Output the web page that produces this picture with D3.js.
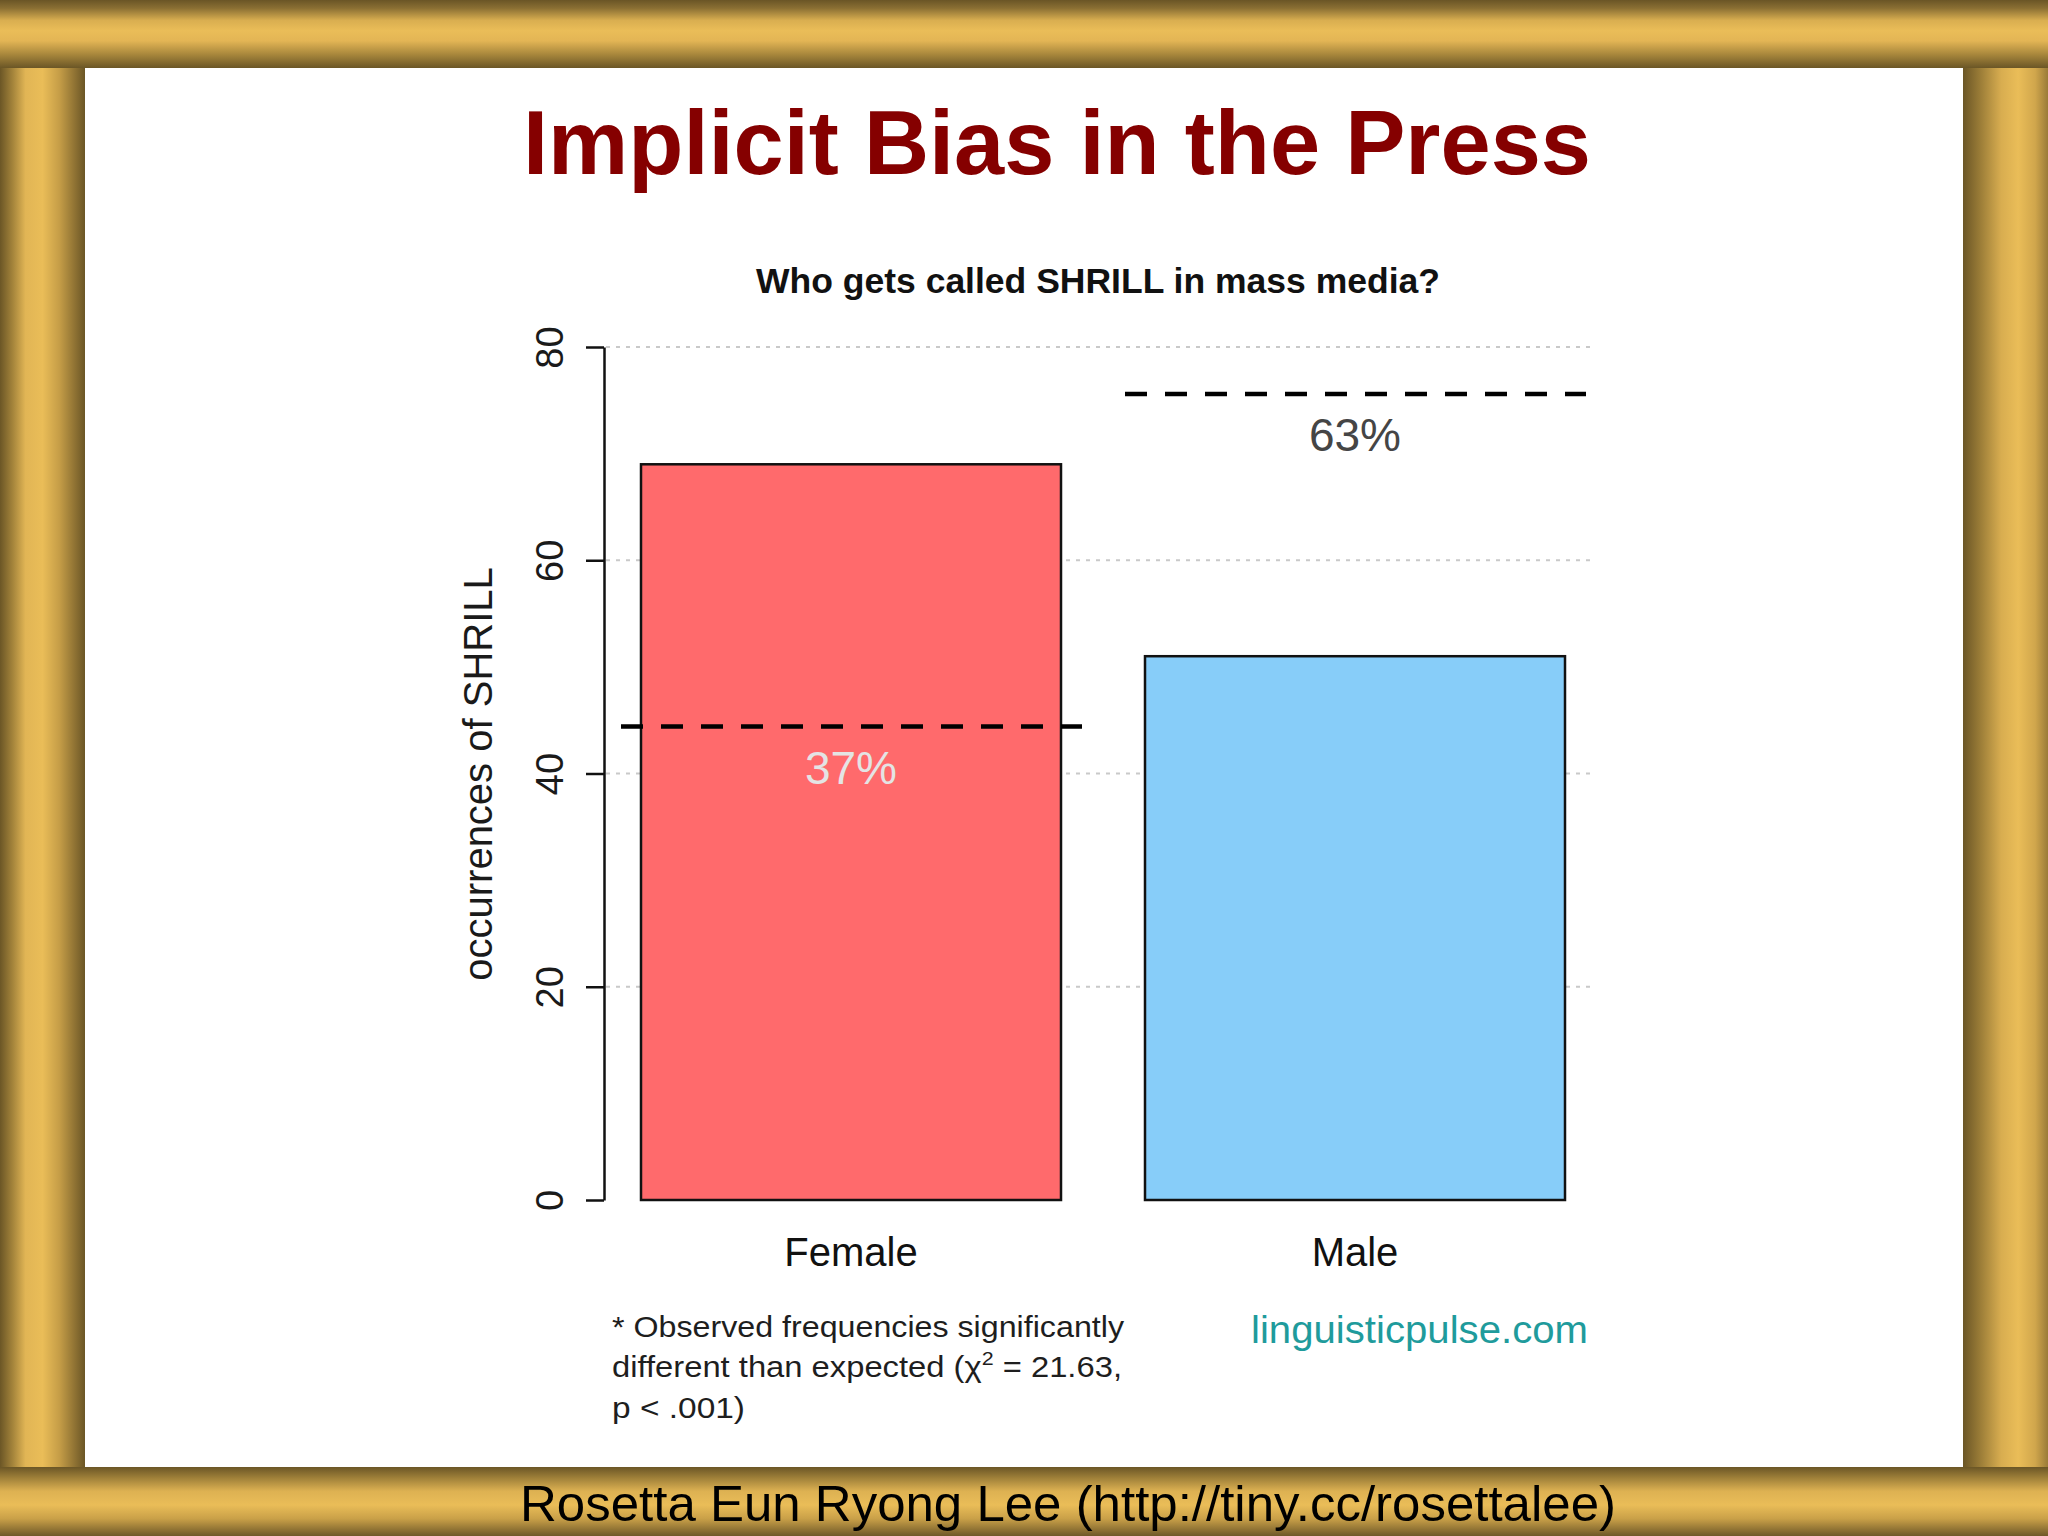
<!DOCTYPE html>
<html>
<head>
<meta charset="utf-8">
<script src="https://cdn.jsdelivr.net/npm/d3@7/dist/d3.min.js"></script>
<style>
  html, body { margin: 0; padding: 0; background: #fff; }
  svg { display: block; }
  text { font-family: "Liberation Sans", Arial, sans-serif; }
</style>
</head>
<body>
<svg id="chart" width="2048" height="1536"></svg>
<script>
// ---- data ----
const categories = ["Female", "Male"];
const observed = [69, 51];
const expectedShare = [0.37, 0.63];
const pctLabels = ["37%", "63%"];
const yTicks = [0, 20, 40, 60, 80];
const barColors = ["#FF6A6C", "#87CDF9"];
const pctColors = ["#e4e4e4", "#454545"];

const titleText = "Implicit Bias in the Press";
const subtitleText = "Who gets called SHRILL in mass media?";
const yLabelText = "occurrences of SHRILL";
const noteLines = ["* Observed frequencies significantly", "different than expected (χ", "p < .001)"];
const siteText = "linguisticpulse.com";
const creditText = "Rosetta Eun Ryong Lee (http://tiny.cc/rosettalee)";

const total = d3.sum(observed);
const expected = expectedShare.map(s => s * total);

const svg = d3.select("#chart");
const W = 2048, H = 1536;

// ---- gold frame ----
const defs = svg.append("defs");
function grad(id, horizontal, stops) {
  const g = defs.append("linearGradient").attr("id", id)
    .attr("x1", 0).attr("y1", 0)
    .attr("x2", horizontal ? 1 : 0).attr("y2", horizontal ? 0 : 1);
  stops.forEach(([o, c]) => g.append("stop").attr("offset", o).attr("stop-color", c));
}
grad("gTop", false, [[0, "#6a5526"], [0.12, "#8a6f33"], [0.3, "#d9ae50"], [0.45, "#eabd58"], [0.6, "#e3b555"], [0.8, "#a8873c"], [1, "#6b5626"]]);
grad("gBot", false, [[0, "#6b5626"], [0.15, "#9c7e38"], [0.35, "#ddb152"], [0.55, "#eabd58"], [0.75, "#c9a048"], [1, "#6e5828"]]);
grad("gLeft", true, [[0, "#6b5626"], [0.15, "#a4843b"], [0.3, "#e1b555"], [0.5, "#eabd58"], [0.7, "#c59d47"], [1, "#6b5626"]]);
grad("gRight", true, [[0, "#6b5626"], [0.2, "#9a7c37"], [0.45, "#d8ad50"], [0.65, "#eabd58"], [0.85, "#d0a64c"], [1, "#9a7b38"]]);

const wx0 = 85, wx1 = 1963, wy0 = 68, wy1 = 1467;
svg.append("rect").attr("x", 0).attr("y", wy0).attr("width", wx0).attr("height", wy1 - wy0).attr("fill", "url(#gLeft)");
svg.append("rect").attr("x", wx1).attr("y", wy0).attr("width", W - wx1).attr("height", wy1 - wy0).attr("fill", "url(#gRight)");
svg.append("rect").attr("x", 0).attr("y", 0).attr("width", W).attr("height", wy0).attr("fill", "url(#gTop)");
svg.append("rect").attr("x", 0).attr("y", wy1).attr("width", W).attr("height", H - wy1).attr("fill", "url(#gBot)");
svg.append("rect").attr("x", wx0).attr("y", wy0).attr("width", wx1 - wx0).attr("height", wy1 - wy0).attr("fill", "#ffffff");

// ---- titles ----
svg.append("text").attr("x", 1057).attr("y", 174).attr("text-anchor", "middle")
  .attr("font-size", 91).attr("font-weight", "bold").attr("fill", "#850000")
  .attr("textLength", 1068).attr("lengthAdjust", "spacingAndGlyphs")
  .text(titleText);
svg.append("text").attr("x", 1098).attr("y", 293).attr("text-anchor", "middle")
  .attr("font-size", 35).attr("font-weight", "bold").attr("fill", "#111")
  .attr("textLength", 684).attr("lengthAdjust", "spacingAndGlyphs")
  .text(subtitleText);

// ---- scales ----
const y = d3.scaleLinear().domain([0, 80]).range([1200, 347]);
const x = d3.scaleBand().domain(categories).range([641, 1565]).paddingInner(1 / 6).paddingOuter(0);
const axisX = 604, gridEnd = 1596;

// gridlines
svg.append("g").selectAll("line").data(yTicks.filter(d => d > 0)).join("line")
  .attr("x1", axisX + 2).attr("x2", gridEnd)
  .attr("y1", d => y(d)).attr("y2", d => y(d))
  .attr("stroke", "#c9c9c9").attr("stroke-width", 2).attr("stroke-dasharray", "4,6");

// bars
svg.append("g").selectAll("rect").data(categories).join("rect")
  .attr("x", d => x(d)).attr("width", x.bandwidth())
  .attr("y", (d, i) => y(observed[i])).attr("height", (d, i) => y(0) - y(observed[i]))
  .attr("fill", (d, i) => barColors[i]).attr("stroke", "#111").attr("stroke-width", 2.5);

// expected lines
svg.append("g").selectAll("line").data(categories).join("line")
  .attr("x1", d => x(d) - 20).attr("x2", d => x(d) + x.bandwidth() + 21)
  .attr("y1", (d, i) => y(expected[i])).attr("y2", (d, i) => y(expected[i]))
  .attr("stroke", "#000").attr("stroke-width", 4.5).attr("stroke-dasharray", "22,18");

// percentage labels
svg.append("g").selectAll("text").data(categories).join("text")
  .attr("x", d => x(d) + x.bandwidth() / 2 + 0)
  .attr("y", (d, i) => y(expected[i]) + 57)
  .attr("text-anchor", "middle").attr("font-size", 46)
  .attr("fill", (d, i) => pctColors[i])
  .text((d, i) => pctLabels[i]);

// y axis
const yAxis = d3.axisLeft(y).tickValues(yTicks).tickSizeInner(18).tickSizeOuter(0).tickFormat(d3.format("d"));
const ag = svg.append("g").attr("transform", `translate(${axisX},0)`).call(yAxis);
ag.select(".domain").attr("stroke", "#111").attr("stroke-width", 2.5);
ag.selectAll(".tick line").attr("stroke", "#111").attr("stroke-width", 2.5);
ag.selectAll(".tick text")
  .attr("transform", "rotate(-90)").attr("x", 0).attr("y", -41).attr("dy", 0)
  .attr("text-anchor", "middle").attr("font-size", 38).attr("fill", "#1a1a1a")
  .attr("font-family", "Liberation Sans, Arial, sans-serif");

// y label
svg.append("text").attr("transform", "translate(492,774) rotate(-90)")
  .attr("text-anchor", "middle").attr("font-size", 40).attr("fill", "#1a1a1a")
  .text(yLabelText);

// category labels
svg.append("g").selectAll("text").data(categories).join("text")
  .attr("x", d => x(d) + x.bandwidth() / 2)
  .attr("y", 1266).attr("text-anchor", "middle").attr("font-size", 40).attr("fill", "#111")
  .text(d => d);

// footnote
const nt = svg.append("g").attr("fill", "#1e1e1e").attr("font-size", 29);
nt.append("text").attr("x", 612).attr("y", 1337)
  .attr("textLength", 512).attr("lengthAdjust", "spacingAndGlyphs").text(noteLines[0]);
const l2 = nt.append("text").attr("x", 612).attr("y", 1377)
  .attr("textLength", 510).attr("lengthAdjust", "spacingAndGlyphs");
l2.append("tspan").text(noteLines[1]);
l2.append("tspan").attr("font-size", 19).attr("dy", -12).text("2");
l2.append("tspan").attr("dy", 12).text(" = 21.63,");
nt.append("text").attr("x", 612).attr("y", 1418)
  .attr("textLength", 133).attr("lengthAdjust", "spacingAndGlyphs").text(noteLines[2]);

// site
svg.append("text").attr("x", 1251).attr("y", 1343).attr("font-size", 39).attr("fill", "#1f9b9c")
  .attr("textLength", 337).attr("lengthAdjust", "spacingAndGlyphs").text(siteText);

// credit
svg.append("text").attr("x", 1068).attr("y", 1521).attr("text-anchor", "middle")
  .attr("font-size", 50).attr("fill", "#000")
  .attr("textLength", 1096).attr("lengthAdjust", "spacingAndGlyphs").text(creditText);
</script>
</body>
</html>
